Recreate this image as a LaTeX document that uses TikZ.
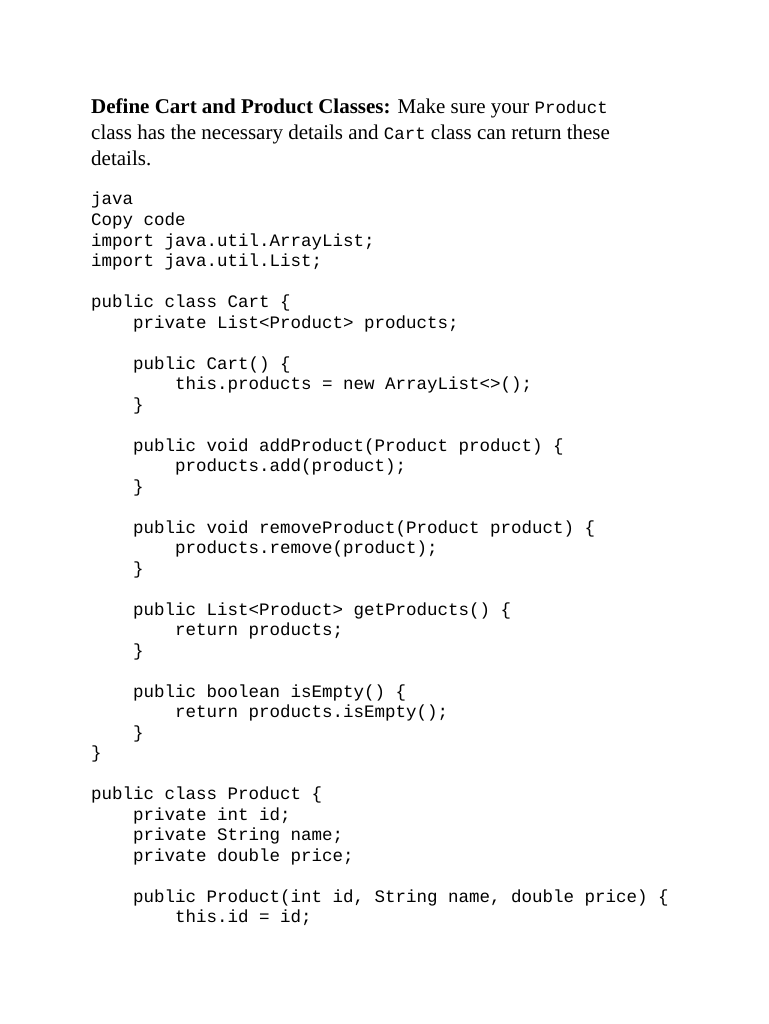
\documentclass[tikz,border=0pt]{standalone}
\usepackage{fontspec}
\setmainfont{Liberation Serif}
\setmonofont{Liberation Mono}
\begin{document}
\begin{tikzpicture}[x=1pt,y=-1pt,
  hd/.style={anchor=base west,inner sep=0,font=\fontsize{21}{24}\selectfont},
  cd/.style={anchor=base west,inner sep=0,font=\fontsize{17.5}{20}\ttfamily}]
\useasboundingbox[fill=white] (0,0) rectangle (768,1024);
\node[hd] (h1) at (91,114) {\textbf{Define Cart and Product Classes:} Make sure your {\fontsize{17.4}{20}\ttfamily Product}};
\node[hd] (h2) at (91,140) {class has the necessary details and {\fontsize{17.4}{20}\ttfamily Cart} class can return these};
\node[hd] (h3) at (91,166) {details.};
\def\L#1#2#3{\node[cd] (c#1) at ({91+#2*10.5},{205+#1*20.51}) {#3};}
\L{0}{0}{java}
\L{1}{0}{Copy code}
\L{2}{0}{import java.util.ArrayList;}
\L{3}{0}{import java.util.List;}
\L{5}{0}{public class Cart \{}
\L{6}{4}{private List<Product> products;}
\L{8}{4}{public Cart() \{}
\L{9}{8}{this.products = new ArrayList<>();}
\L{10}{4}{\}}
\L{12}{4}{public void addProduct(Product product) \{}
\L{13}{8}{products.add(product);}
\L{14}{4}{\}}
\L{16}{4}{public void removeProduct(Product product) \{}
\L{17}{8}{products.remove(product);}
\L{18}{4}{\}}
\L{20}{4}{public List<Product> getProducts() \{}
\L{21}{8}{return products;}
\L{22}{4}{\}}
\L{24}{4}{public boolean isEmpty() \{}
\L{25}{8}{return products.isEmpty();}
\L{26}{4}{\}}
\L{27}{0}{\}}
\L{29}{0}{public class Product \{}
\L{30}{4}{private int id;}
\L{31}{4}{private String name;}
\L{32}{4}{private double price;}
\L{34}{4}{public Product(int id, String name, double price) \{}
\L{35}{8}{this.id = id;}
\end{tikzpicture}
\end{document}
